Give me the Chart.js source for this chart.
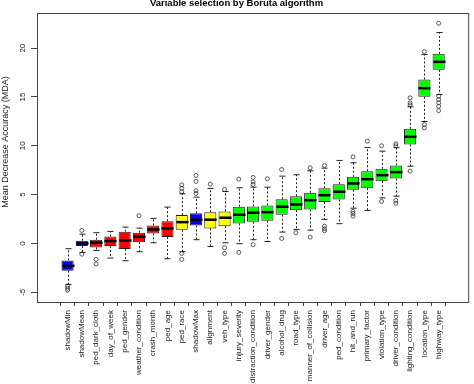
<!DOCTYPE html>
<html>
<head>
<meta charset="utf-8">
<script src="https://cdn.jsdelivr.net/npm/chart.js@4.4.1/dist/chart.umd.min.js"></script>
<style>
  html, body { margin: 0; padding: 0; background: #fff; }
</style>
</head>
<body>
<canvas id="boruta" width="474" height="384"></canvas>
<script>
// Boruta importance boxplots
const categories = [
  "shadowMin", "shadowMean", "ped_dark_cloth", "day_of_week", "ped_gender",
  "weather_condition", "crash_month", "ped_age", "ped_race", "shadowMax",
  "alignment", "veh_type", "injury_severity", "distraction_condition",
  "driver_gender", "alcohol_drug", "road_type", "manner_of_collision",
  "driver_age", "ped_condition", "hit_and_run", "primary_factor",
  "violation_type", "driver_condition", "lighting_condition",
  "location_type", "highway_type",
];
const decision = [
  "shadow", "shadow", "rejected", "rejected", "rejected", "rejected", "rejected",
  "rejected", "tentative", "shadow", "tentative", "tentative",
  "confirmed", "confirmed", "confirmed", "confirmed", "confirmed", "confirmed",
  "confirmed", "confirmed", "confirmed", "confirmed", "confirmed", "confirmed",
  "confirmed", "confirmed", "confirmed",
];
const whiskerLow = [-4.2, -0.92, -0.72, -1.5, -1.77, -0.85, 0.07, -1.57, -0.85, 0.38, -0.31, 0.07, -0.03, 0.38, 0.2, 1.16, 1.43, 1.36, 2.46, 2.02, 3.61, 3.38, 4.66, 4.84, 7.91, 12.49, 15.25];
const q1 = [-2.8, -0.27, -0.41, -0.27, -0.58, 0.13, 1.02, 0.65, 1.4, 1.84, 1.54, 1.77, 2.05, 2.22, 2.32, 2.94, 3.41, 3.48, 4.23, 4.5, 5.5, 5.66, 6.38, 6.65, 10.13, 15.01, 17.78];
const median = [-2.3, 0, 0.07, 0.24, 0.3, 0.69, 1.43, 1.54, 2.18, 2.43, 2.43, 2.63, 2.94, 3.14, 3.2, 3.76, 3.99, 4.43, 4.94, 5.29, 6.14, 6.58, 6.99, 7.3, 10.92, 15.9, 18.6];
const q3 = [-1.74, 0.28, 0.38, 0.72, 1.2, 1.1, 1.84, 2.28, 2.9, 3.1, 3.2, 3.28, 3.76, 3.79, 3.89, 4.53, 4.84, 5.19, 5.66, 6.07, 6.83, 7.4, 7.64, 7.98, 11.74, 16.79, 19.42];
const whiskerHigh = [-0.54, 0.95, 1.1, 1.23, 1.67, 1.57, 2.56, 3.72, 5.09, 4.74, 5.63, 5.32, 5.7, 5.76, 5.76, 6.89, 7.03, 7.44, 7.71, 8.5, 8.26, 9.83, 9.45, 9.8, 13.99, 19.34, 21.6];
const outliers = [
  [-4.37, -4.6, -4.8], [1.33, -1.1], [-1.64, -2.1], [], [], [2.84], [], [],
  [6.0, 5.63, 5.29, -1.02, -1.64], [6.96, 6.35, 5.39, 5.12], [6.07],
  [5.53, -0.44, -1.02], [6.58, -0.92], [6.76, 6.3, 6.04, -0.13], [6.62],
  [7.57, 0.51], [1.1], [7.75, 0.64], [7.98, 1.77, 1.5, 1.3], [],
  [8.87, 3.28, 3.07, 2.8], [10.47], [10.0, 4.3], [10.2, 10.0, 4.4, 4.12],
  [14.91, 14.4, 14.2, 7.4], [19.65, 12.18, 11.84],
  [22.55, 15.08, 14.74, 14.4, 14.05, 13.6],
];
const yTicks = [-5, 0, 5, 10, 15, 20];

const decisionColors = { shadow: "#0000ff", rejected: "#ff0000", tentative: "#ffff00", confirmed: "#00ff00" };
const FONT = "'Liberation Sans', Arial, sans-serif";
const INK = "#222";

// whiskers, staples, medians, rotated y labels and the plot frame
const boxExtras = {
  id: "boxExtras",
  afterDatasetsDraw(chart) {
    const { ctx, scales: { y } } = chart;
    const meta = chart.getDatasetMeta(0);
    const seg = (x1, y1, x2, y2) => {
      ctx.beginPath();
      ctx.moveTo(x1, y1);
      ctx.lineTo(x2, y2);
      ctx.stroke();
    };
    ctx.save();
    ctx.strokeStyle = INK;
    meta.data.forEach((bar, i) => {
      const cx = Math.round(bar.x) + 0.5;
      const half = bar.width / 2;
      ctx.lineWidth = 1;
      ctx.setLineDash([2, 2]);
      seg(cx, y.getPixelForValue(q3[i]), cx, y.getPixelForValue(whiskerHigh[i]));
      seg(cx, y.getPixelForValue(q1[i]), cx, y.getPixelForValue(whiskerLow[i]));
      ctx.setLineDash([]);
      const hi = y.getPixelForValue(whiskerHigh[i]);
      const lo = y.getPixelForValue(whiskerLow[i]);
      seg(cx - half / 2, hi, cx + half / 2, hi);
      seg(cx - half / 2, lo, cx + half / 2, lo);
      ctx.lineWidth = 2.5;
      ctx.strokeStyle = "#000";
      const m = y.getPixelForValue(median[i]);
      seg(cx - half, m, cx + half, m);
      ctx.strokeStyle = INK;
    });
    ctx.restore();
  },
  afterDraw(chart) {
    const { ctx, chartArea: a, scales: { y } } = chart;
    ctx.save();
    ctx.strokeStyle = "#444";
    ctx.lineWidth = 1;
    ctx.strokeRect(a.left + 0.5, a.top + 0.5, a.right - a.left - 1, a.bottom - a.top);
    ctx.fillStyle = INK;
    ctx.textAlign = "center";
    ctx.textBaseline = "middle";
    ctx.font = "8px " + FONT;
    yTicks.forEach((v) => {
      ctx.save();
      ctx.translate(23, y.getPixelForValue(v));
      ctx.rotate(-Math.PI / 2);
      ctx.fillText(String(v), 0, 0);
      ctx.restore();
    });
    ctx.font = "9px " + FONT;
    ctx.translate(6, 142);
    ctx.rotate(-Math.PI / 2);
    ctx.fillText("Mean Decrease Accuracy (MDA)", 0, 0);
    ctx.restore();
  },
};

new Chart(document.getElementById("boruta"), {
  type: "bar",
  data: {
    datasets: [
      {
        label: "IQR",
        data: categories.map((c, i) => ({ x: i + 1, y: [q1[i], q3[i]] })),
        backgroundColor: decision.map((d) => decisionColors[d]),
        borderColor: INK,
        borderWidth: 1,
        borderSkipped: false,
        barPercentage: 0.85,
        categoryPercentage: 1,
        order: 2,
      },
      {
        type: "line",
        label: "outliers",
        data: outliers.flatMap((vals, i) => vals.map((v) => ({ x: i + 1, y: v }))),
        showLine: false,
        pointRadius: 2,
        pointBackgroundColor: "rgba(0,0,0,0)",
        pointBorderColor: "#333",
        pointBorderWidth: 0.8,
        order: 1,
      },
    ],
  },
  options: {
    responsive: false,
    devicePixelRatio: 1,
    animation: false,
    layout: { padding: { left: 0, right: 1, top: 0, bottom: 0 } },
    plugins: {
      legend: { display: false },
      tooltip: { enabled: false },
      title: {
        display: true,
        text: "Variable selection by Boruta algorithm",
        color: "#000",
        font: { family: FONT, size: 9.5, weight: "bold" },
        padding: { top: -2, bottom: 3.6 },
      },
    },
    scales: {
      x: {
        type: "linear",
        min: -0.58,
        max: 28.58,
        border: { display: false },
        grid: { drawOnChartArea: false, tickLength: 4, color: "#444" },
        afterBuildTicks: (scale) => {
          scale.ticks = categories.map((c, i) => ({ value: i + 1 }));
        },
        afterFit: (scale) => {
          scale.height = 82;
        },
        ticks: {
          autoSkip: false,
          minRotation: 90,
          maxRotation: 90,
          padding: 4,
          color: INK,
          font: { family: FONT, size: 8 },
          callback: (v) => categories[v - 1] ?? "",
        },
      },
      y: {
        min: -6.0,
        max: 23.6,
        border: { display: false },
        grid: { drawOnChartArea: false, tickLength: 6, color: "#444" },
        afterBuildTicks: (scale) => {
          scale.ticks = yTicks.map((v) => ({ value: v }));
        },
        afterFit: (scale) => {
          scale.width = 37;
        },
        ticks: { display: false },
      },
    },
  },
  plugins: [boxExtras],
});
</script>
</body>
</html>
